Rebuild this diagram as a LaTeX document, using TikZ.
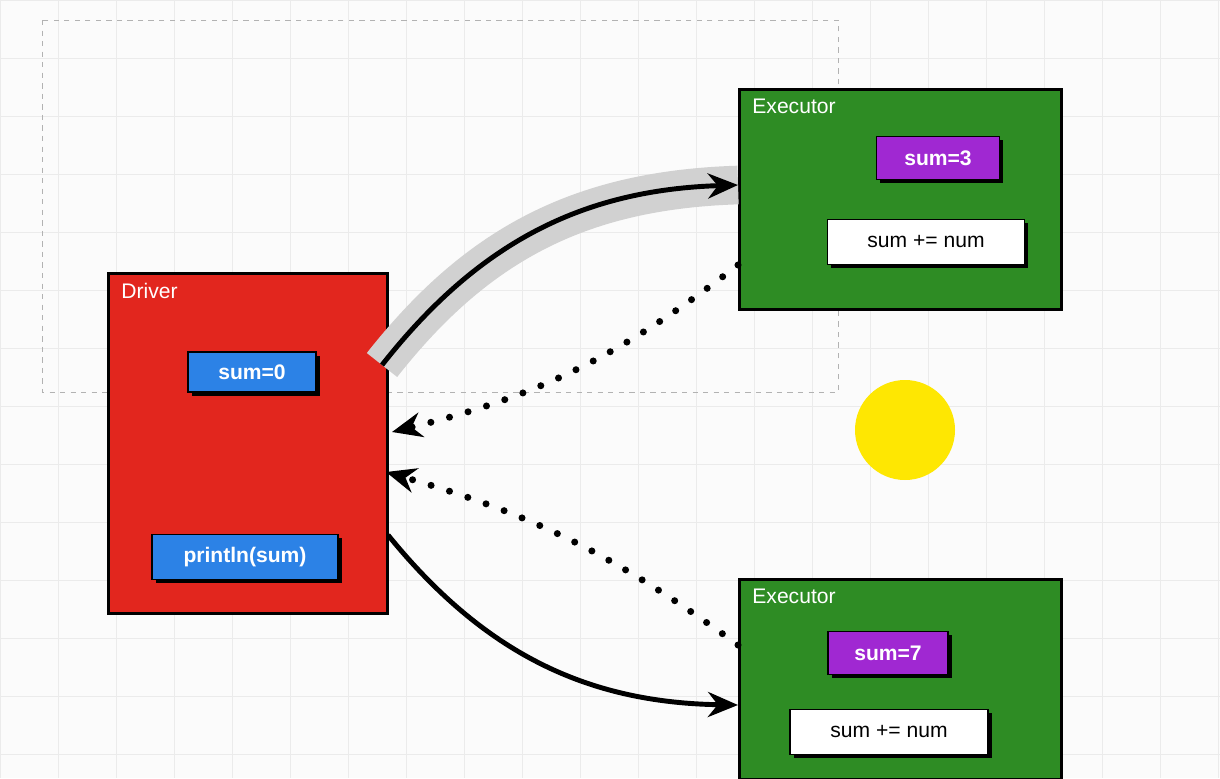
\documentclass[tikz,border=0pt]{standalone}
\usepackage{fontspec}
\setmainfont{Liberation Sans}
\usetikzlibrary{positioning,arrows.meta,calc,shadows}
\definecolor{drvred}{RGB}{226,38,30}
\definecolor{exgreen}{RGB}{46,140,36}
\definecolor{varblue}{RGB}{44,130,230}
\definecolor{varpurple}{RGB}{160,40,210}
\tikzset{
     box/.style={draw=black, line width=1.5pt, anchor=north west, inner sep=0pt},
     var/.style={draw=black, line width=0.8pt, text=white, font=\bfseries\large,
                 inner sep=0pt, drop shadow={shadow xshift=2pt, shadow yshift=-2pt, opacity=1, fill=black}},
     title/.style={text=white, font=\large, anchor=north west, inner sep=6pt},
     arrow/.style={-{Stealth[length=6mm,width=5mm]}, line width=2.8pt},
     dotarrow/.style={arrow, line cap=round, dash pattern=on 0pt off 11pt, line width=4pt}
     }
\begin{document}
\begin{tikzpicture}[x=0.02cm,y=-0.02cm]
    \useasboundingbox (0,0) rectangle (1220,778);
    \fill[white!97!gray] (0,0) rectangle (1220,778);
    \foreach \gx in {0,58,...,1220} \draw[black!8] (\gx,0) -- (\gx,778);
    \foreach \gy in {0,58,...,778} \draw[black!8] (0,\gy) -- (1220,\gy);
    \draw[gray!60, dashed, thin] (42,20) rectangle (838,392);
    \fill[yellow!90!orange] (905,430) circle (50);
    % boxes
    \node [box, fill=drvred, minimum width=5.58cm, minimum height=6.8cm] (driver) at (107,272) {};
    \node [box, fill=exgreen, minimum width=6.44cm, minimum height=4.4cm] (exA) at (738,88) {};
    \node [box, fill=exgreen, minimum width=6.44cm, minimum height=4cm] (exB) at (738,578) {};
    \node [title] at (driver.north west) {\,Driver};
    \node [title] at (exA.north west) {\,Executor};
    \node [title] at (exB.north west) {\,Executor};
    \node [var, fill=varblue, minimum width=2.56cm, minimum height=0.8cm] (sumD) at (252,372) {sum=0};
    \node [var, fill=varblue, minimum width=3.72cm, minimum height=0.9cm] (print) at (245,557) {println(sum)};
    \node [var, fill=varpurple, minimum width=2.46cm, minimum height=0.86cm] (sumA) at (938,158) {sum=3};
    \node [var, fill=white, text=black, font=\large, minimum width=3.94cm, minimum height=0.9cm] (opA) at (926,242) {sum += num};
    \node [var, fill=varpurple, minimum width=2.4cm, minimum height=0.86cm] (sumB) at (888,653) {sum=7};
    \node [var, fill=white, text=black, font=\large, minimum width=3.96cm, minimum height=0.9cm] (opB) at (889,732) {sum += num};
    \coordinate (dA) at (382,365);
    \coordinate (dB) at (388,535);
    \coordinate (inA) at (392,432);
    \coordinate (inB) at (386,472);
    % arrows
    \draw [black!18, line width=22pt] (dA) to[bend left=25] (738,185);
    \draw [arrow] (dA) to[bend left=25] (738,185);
    \draw [dotarrow] (exA.west |- 0,265) to[bend left=12] (inA);
    \draw [dotarrow] (exB.west |- 0,645) to[bend right=10] (inB);
    \draw [arrow] (dB) to[bend right=25] (exB.west |- 0,705);
\end{tikzpicture}
\end{document}
